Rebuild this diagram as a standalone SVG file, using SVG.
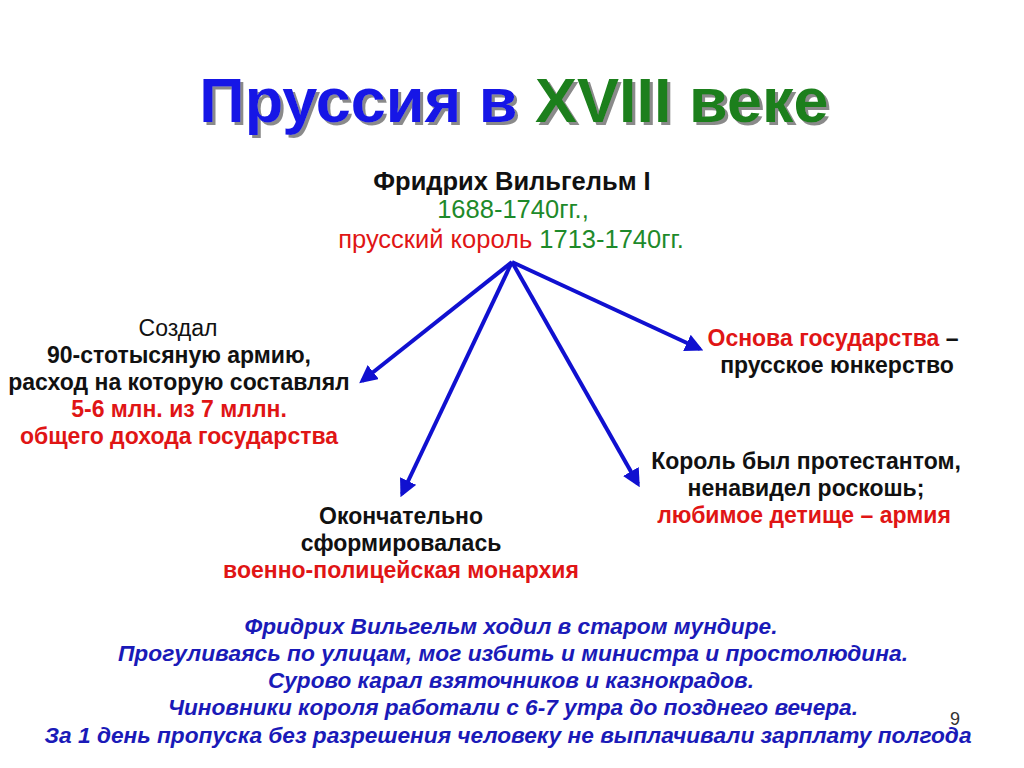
<svg xmlns="http://www.w3.org/2000/svg" width="1024" height="768" viewBox="0 0 1024 768">
<defs>
<style>
.t{font-family:"Liberation Sans",Arial,sans-serif;text-anchor:middle}
.b{font-weight:bold;font-size:23px;fill:#111}
.k{font-size:25.5px}
.r{fill:#e01515}
.g{fill:#1e8a2a}
.n{font-weight:normal}
.it{font-family:"Liberation Sans Narrow","Liberation Sans",Arial,sans-serif;font-style:italic;font-weight:bold;font-size:22px;fill:#1a1ab8;text-anchor:middle}
.title{font-family:"Liberation Sans",Arial,sans-serif;font-weight:bold;font-size:63px;text-anchor:middle}
.conn{stroke:#1010d0;stroke-width:4;fill:none;marker-end:url(#ah)}
</style>
<filter id="sh" x="-5%" y="-20%" width="110%" height="140%">
<feOffset in="SourceAlpha" dx="3" dy="3" result="o"/>
<feFlood flood-color="#8a8a8a"/>
<feComposite in2="o" operator="in" result="s"/>
<feMerge><feMergeNode in="s"/><feMergeNode in="SourceGraphic"/></feMerge>
</filter>
<marker id="ah" viewBox="0 0 10 10" refX="8" refY="5" markerWidth="4.5" markerHeight="4.5" orient="auto" markerUnits="strokeWidth">
<path d="M0,0 L10,5 L0,10 Z" fill="#1010d0"/>
</marker>
</defs>
<rect width="1024" height="768" fill="#ffffff"/>
<g id="title">
<text class="title" x="514" y="122" filter="url(#sh)"><tspan fill="#1515e6">Пруссия в </tspan><tspan fill="#1a7f1a">XVIII веке</tspan></text>
</g>
<g id="king">
<text class="t b k" x="512" y="190">Фридрих Вильгельм I</text>
<text class="t n k g" x="513" y="218">1688-1740гг.,</text>
<text class="t n k" x="511" y="248"><tspan class="r">прусский король </tspan><tspan class="g">1713-1740гг.</tspan></text>
</g>
<g id="connectors">
<line class="conn" x1="512" y1="262" x2="362" y2="381"/>
<line class="conn" x1="512" y1="262" x2="402" y2="494"/>
<line class="conn" x1="512" y1="262" x2="638" y2="484"/>
<line class="conn" x1="512" y1="262" x2="700" y2="349"/>
</g>
<g id="army">
<text class="t b n" x="178" y="336" fill="#111">Создал</text>
<text class="t b" x="179" y="363">90-стотысяную армию,</text>
<text class="t b" x="179" y="390">расход на которую составлял</text>
<text class="t b r" x="179" y="417">5-6 млн. из 7 мллн.</text>
<text class="t b r" x="179" y="444">общего дохода государства</text>
</g>
<g id="monarchy">
<text class="t b" x="401" y="524">Окончательно</text>
<text class="t b" x="401" y="551">сформировалась</text>
<text class="t b r" x="401" y="578">военно-полицейская монархия</text>
</g>
<g id="protestant">
<text class="t b" x="806" y="469">Король был протестантом,</text>
<text class="t b" x="806" y="496">ненавидел роскошь;</text>
<text class="t b r" x="804" y="523">любимое детище – армия</text>
</g>
<g id="junkers">
<text class="t b" x="833" y="346"><tspan class="r">Основа государства</tspan> –</text>
<text class="t b" x="837" y="373">прусское юнкерство</text>
</g>
<g id="notes">
<text class="it" x="511" y="634" textLength="533" lengthAdjust="spacingAndGlyphs">Фридрих Вильгельм ходил в старом мундире.</text>
<text class="it" x="513" y="661" textLength="790" lengthAdjust="spacingAndGlyphs">Прогуливаясь по улицам, мог избить и министра и простолюдина.</text>
<text class="it" x="511" y="688" textLength="486" lengthAdjust="spacingAndGlyphs">Сурово карал взяточников и казнокрадов.</text>
<text class="it" x="513" y="715" textLength="690" lengthAdjust="spacingAndGlyphs">Чиновники короля работали  с 6-7 утра до позднего вечера.</text>
<text class="it" x="508" y="743" textLength="927" lengthAdjust="spacingAndGlyphs">За 1 день пропуска без разрешения человеку не выплачивали зарплату полгода</text>
</g>
<text x="955" y="725" font-family="Liberation Sans,Arial,sans-serif" font-size="18" fill="#333" text-anchor="middle">9</text>
</svg>
